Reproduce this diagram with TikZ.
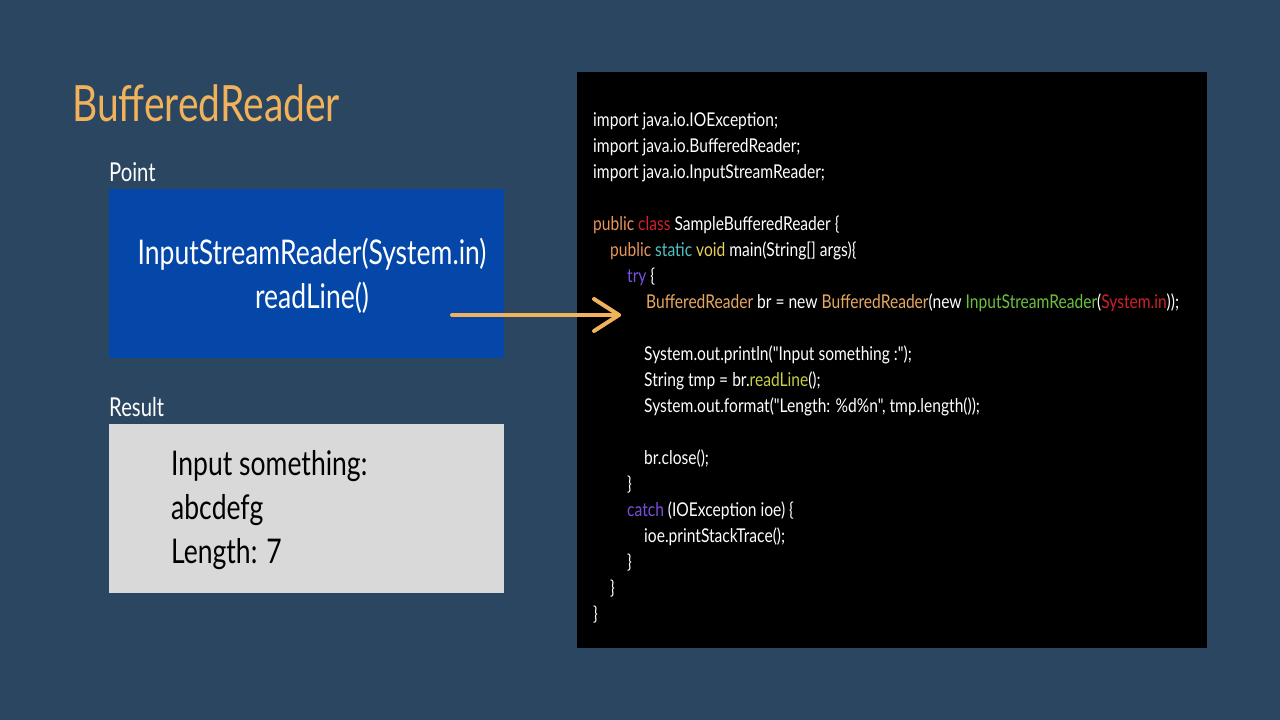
\documentclass[tikz,border=0pt]{standalone}
\usepackage{fontspec}
\setmainfont{Lato}[FakeStretch=0.78]
\newfontfamily\codefont{Lato}[FakeStretch=0.82]
\definecolor{bg}{HTML}{2A4660}
\definecolor{ttl}{HTML}{F2B25C}
\definecolor{bluebox}{HTML}{0447A8}
\definecolor{graybox}{HTML}{D9D9D9}
\definecolor{kor}{HTML}{E8955A}
\definecolor{kred}{HTML}{D0202A}
\definecolor{kteal}{HTML}{4FC1C0}
\definecolor{kyel}{HTML}{E8D060}
\definecolor{kpur}{HTML}{7A4FE0}
\definecolor{ktan}{HTML}{E8A860}
\definecolor{kgrn}{HTML}{6CC040}
\definecolor{kyg}{HTML}{C8D040}
\begin{document}
\begin{tikzpicture}[x=1pt,y=-1pt,
  code/.style={anchor=west,inner sep=0pt,text=white,font=\codefont\fontsize{19}{19}\selectfont},
  lbl/.style={anchor=west,inner sep=0pt,text=white,font=\fontsize{26}{26}\selectfont},
  big/.style={inner sep=0pt,font=\fontsize{34}{34}\selectfont}]
\fill[bg] (0,0) rectangle (1280,720);
\useasboundingbox (0,0) rectangle (1280,720);
\node[anchor=west,inner sep=0pt,text=ttl,font=\fontsize{50}{50}\selectfont] (title) at (72,103) {BufferedReader};
\node[lbl] (point) at (109,172) {Point};
\fill[bluebox] (109,189) rectangle (504,358);
\node[big,text=white] (p1) at (312,254) {InputStreamReader(System.in)};
\node[big,text=white] (p2) at (312,298) {readLine()};
\node[lbl] (result) at (109,407) {Result};
\fill[graybox] (109,424) rectangle (504,593);
\node[big,anchor=west] (r1) at (171,466) {Input something:};
\node[big,anchor=west] (r2) at (171,510) {abcdefg};
\node[big,anchor=west] (r3) at (171,554) {Length: 7};
\fill[black] (577,72) rectangle (1207,648);
\node[code] (c1) at (593,121) {import java.io.IOException;};
\node[code] (c2) at (593,147) {import java.io.BufferedReader;};
\node[code] (c3) at (593,173) {import java.io.InputStreamReader;};
\node[code] (c4) at (593,225) {\textcolor{kor}{public} \textcolor{kred}{class} SampleBufferedReader \{};
\node[code] (c5) at (610,251) {\textcolor{kor}{public} \textcolor{kteal}{static} \textcolor{kyel}{void} main(String[] args)\{};
\node[code] (c6) at (627,277) {\textcolor{kpur}{try} \{};
\node[code] (c7) at (646,303) {\textcolor{ktan}{BufferedReader} br = new \textcolor{ktan}{BufferedReader}(new \textcolor{kgrn}{InputStreamReader}(\textcolor{kred}{System.in}));};
\node[code] (c8) at (644,355) {System.out.println("Input something :");};
\node[code] (c9) at (644,381) {String tmp = br.\textcolor{kyg}{readLine}();};
\node[code] (c10) at (644,407) {System.out.format("Length: \%d\%n", tmp.length());};
\node[code] (c11) at (644,459) {br.close();};
\node[code] (c12) at (627,485) {\}};
\node[code] (c13) at (627,511) {\textcolor{kpur}{catch} (IOException ioe) \{};
\node[code] (c14) at (644,537) {ioe.printStackTrace();};
\node[code] (c15) at (627,563) {\}};
\node[code] (c16) at (610,589) {\}};
\node[code] (c17) at (593,615) {\}};
\coordinate (as) at (452,315);
\coordinate (ae) at (619,315);
\draw[ttl,line width=4pt,line cap=round] (as) -- (ae);
\draw[ttl,line width=4pt,line cap=round,line join=round] (594,299) -- (ae) -- (594,331);
\end{tikzpicture}
\end{document}
